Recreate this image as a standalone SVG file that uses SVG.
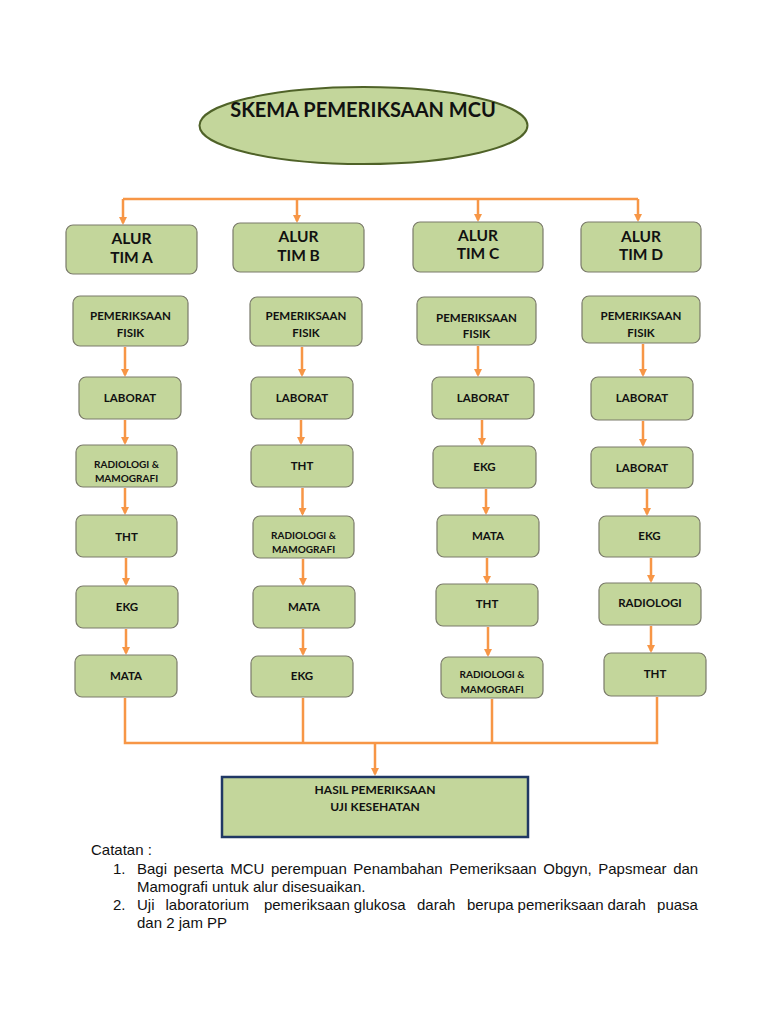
<svg xmlns="http://www.w3.org/2000/svg" width="768" height="1024" viewBox="0 0 768 1024">
<style>
.bx{fill:#C3D69B;stroke:#7a7a6a;stroke-width:1.2}
.t{font-family:Lato,"Open Sans","DejaVu Sans",sans-serif;font-weight:bold;fill:#111;text-anchor:middle}
.tt{font-size:20px}
.tm{font-size:15.5px}
.ts{font-size:11.5px}
.tr{font-size:10px}
.th{font-size:12px}
.c{fill:none;stroke:#F79646;stroke-width:2.5}
.n{font-family:"Liberation Sans",Arial,sans-serif;font-size:15px;fill:#111}
</style>
<defs>
<marker id="ah" viewBox="0 0 8 8" refX="6" refY="4" markerWidth="8" markerHeight="8" markerUnits="userSpaceOnUse" orient="auto">
<path d="M0,0 L8,4 L0,8 z" fill="#F79646"/>
</marker>
</defs>
<rect width="768" height="1024" fill="#fff"/>

<g id="title">
<ellipse cx="363.5" cy="125.5" rx="164" ry="38.5" fill="#C3D69B" stroke="#4F6228" stroke-width="2"/>
<text class="t tt" x="363" y="117">SKEMA PEMERIKSAAN MCU</text>
</g>

<g id="connectors">
<path class="c" d="M123,199 H638"/>
<path class="c" marker-end="url(#ah)" d="M123,199 V223"/>
<path class="c" marker-end="url(#ah)" d="M297,199 V221"/>
<path class="c" marker-end="url(#ah)" d="M478,199 V220"/>
<path class="c" marker-end="url(#ah)" d="M638,199 V220"/>
<path class="c" marker-end="url(#ah)" d="M125,347 V375"/>
<path class="c" marker-end="url(#ah)" d="M125,420 V443"/>
<path class="c" marker-end="url(#ah)" d="M125,488 V513"/>
<path class="c" marker-end="url(#ah)" d="M126,558 V584"/>
<path class="c" marker-end="url(#ah)" d="M126,629 V653"/>
<path class="c" marker-end="url(#ah)" d="M302,347 V375"/>
<path class="c" marker-end="url(#ah)" d="M301,420 V443"/>
<path class="c" marker-end="url(#ah)" d="M302.5,488 V514"/>
<path class="c" marker-end="url(#ah)" d="M303,559 V584"/>
<path class="c" marker-end="url(#ah)" d="M303,629 V654"/>
<path class="c" marker-end="url(#ah)" d="M478,346 V375"/>
<path class="c" marker-end="url(#ah)" d="M482,420 V444"/>
<path class="c" marker-end="url(#ah)" d="M486,489 V513"/>
<path class="c" marker-end="url(#ah)" d="M487,558 V582"/>
<path class="c" marker-end="url(#ah)" d="M488,627 V655"/>
<path class="c" marker-end="url(#ah)" d="M643,344 V375"/>
<path class="c" marker-end="url(#ah)" d="M643,421 V445"/>
<path class="c" marker-end="url(#ah)" d="M647,489 V514"/>
<path class="c" marker-end="url(#ah)" d="M651,558 V581"/>
<path class="c" marker-end="url(#ah)" d="M651,626 V651"/>
<path class="c" d="M125,698 V743 H657 V697"/>
<path class="c" d="M303,698 V743"/>
<path class="c" d="M492,699 V743"/>
<path class="c" marker-end="url(#ah)" d="M375,743 V774"/>
</g>

<g id="alur-a"><rect class="bx" x="66" y="225" width="131" height="49" rx="7"/><text class="t tm" x="131.5" y="244">ALUR</text><text class="t tm" x="131.5" y="263">TIM A</text></g>
<g id="alur-b"><rect class="bx" x="233" y="223" width="131" height="49" rx="7"/><text class="t tm" x="298.5" y="242">ALUR</text><text class="t tm" x="298.5" y="261">TIM B</text></g>
<g id="alur-c"><rect class="bx" x="413" y="222" width="130" height="50" rx="7"/><text class="t tm" x="478" y="241">ALUR</text><text class="t tm" x="478" y="259">TIM C</text></g>
<g id="alur-d"><rect class="bx" x="581" y="222" width="120" height="50" rx="7"/><text class="t tm" x="641" y="242">ALUR</text><text class="t tm" x="641" y="260">TIM D</text></g>

<g id="a1"><rect class="bx" x="73" y="296" width="115" height="50" rx="7"/><text class="t ts" x="130.5" y="320">PEMERIKSAAN</text><text class="t ts" x="130.5" y="337">FISIK</text></g>
<g id="b1"><rect class="bx" x="250" y="297" width="112" height="49" rx="7"/><text class="t ts" x="306" y="320">PEMERIKSAAN</text><text class="t ts" x="306" y="337">FISIK</text></g>
<g id="c1"><rect class="bx" x="417" y="297" width="119" height="48" rx="7"/><text class="t ts" x="476.5" y="322">PEMERIKSAAN</text><text class="t ts" x="476.5" y="338">FISIK</text></g>
<g id="d1"><rect class="bx" x="582" y="296" width="118" height="47" rx="7"/><text class="t ts" x="641" y="320">PEMERIKSAAN</text><text class="t ts" x="641" y="337">FISIK</text></g>

<g id="a2"><rect class="bx" x="79" y="377" width="102" height="42" rx="7"/><text class="t ts" x="130" y="402">LABORAT</text></g>
<g id="b2"><rect class="bx" x="251" y="377" width="102" height="42" rx="7"/><text class="t ts" x="302" y="402">LABORAT</text></g>
<g id="c2"><rect class="bx" x="432" y="377" width="102" height="42" rx="7"/><text class="t ts" x="483" y="402">LABORAT</text></g>
<g id="d2"><rect class="bx" x="591" y="377" width="102" height="43" rx="7"/><text class="t ts" x="642" y="402">LABORAT</text></g>

<g id="a3"><rect class="bx" x="76" y="445" width="101" height="42" rx="7"/><text class="t tr" x="126.5" y="468">RADIOLOGI &amp;</text><text class="t tr" x="126.5" y="482">MAMOGRAFI</text></g>
<g id="b3"><rect class="bx" x="251" y="445" width="102" height="42" rx="7"/><text class="t ts" x="302" y="470">THT</text></g>
<g id="c3"><rect class="bx" x="433" y="446" width="103" height="42" rx="7"/><text class="t ts" x="484.5" y="471">EKG</text></g>
<g id="d3"><rect class="bx" x="591" y="447" width="102" height="41" rx="7"/><text class="t ts" x="642" y="472">LABORAT</text></g>

<g id="a4"><rect class="bx" x="76" y="515" width="101" height="42" rx="7"/><text class="t ts" x="126.5" y="541">THT</text></g>
<g id="b4"><rect class="bx" x="253" y="516" width="101" height="42" rx="7"/><text class="t tr" x="303.5" y="539">RADIOLOGI &amp;</text><text class="t tr" x="303.5" y="553">MAMOGRAFI</text></g>
<g id="c4"><rect class="bx" x="437" y="515" width="102" height="42" rx="7"/><text class="t ts" x="488" y="540">MATA</text></g>
<g id="d4"><rect class="bx" x="599" y="516" width="101" height="41" rx="7"/><text class="t ts" x="649.5" y="540">EKG</text></g>

<g id="a5"><rect class="bx" x="76" y="586" width="102" height="42" rx="7"/><text class="t ts" x="127" y="611">EKG</text></g>
<g id="b5"><rect class="bx" x="253" y="586" width="102" height="42" rx="7"/><text class="t ts" x="304" y="611">MATA</text></g>
<g id="c5"><rect class="bx" x="436" y="584" width="102" height="42" rx="7"/><text class="t ts" x="487" y="608">THT</text></g>
<g id="d5"><rect class="bx" x="599" y="583" width="102" height="42" rx="7"/><text class="t ts" x="650" y="607">RADIOLOGI</text></g>

<g id="a6"><rect class="bx" x="75" y="655" width="102" height="42" rx="7"/><text class="t ts" x="126" y="680">MATA</text></g>
<g id="b6"><rect class="bx" x="251" y="656" width="102" height="41" rx="7"/><text class="t ts" x="302" y="680">EKG</text></g>
<g id="c6"><rect class="bx" x="441" y="657" width="102" height="41" rx="7"/><text class="t tr" x="492" y="678">RADIOLOGI &amp;</text><text class="t tr" x="492" y="693">MAMOGRAFI</text></g>
<g id="d6"><rect class="bx" x="604" y="653" width="102" height="43" rx="7"/><text class="t ts" x="655" y="678">THT</text></g>

<g id="hasil">
<rect x="222" y="777" width="306" height="60" fill="#C3D69B" stroke="#203864" stroke-width="2.5"/>
<text class="t th" x="375" y="794">HASIL PEMERIKSAAN</text>
<text class="t th" x="375" y="811">UJI KESEHATAN</text>
</g>

<g id="catatan">
<text class="n" x="91" y="855">Catatan :</text>
<text class="n" x="113" y="874">1.</text>
<text class="n" x="137" y="874" word-spacing="2.4">Bagi peserta MCU perempuan Penambahan Pemeriksaan Obgyn, Papsmear dan</text>
<text class="n" x="137" y="892">Mamografi untuk alur disesuaikan.</text>
<text class="n" x="113" y="910">2.</text>
<text class="n" y="910"><tspan x="137">Uji</tspan><tspan x="165.5">laboratorium</tspan><tspan x="263.9">pemeriksaan</tspan><tspan x="353.8">glukosa</tspan><tspan x="417">darah</tspan><tspan x="466.9">berupa</tspan><tspan x="517.6">pemeriksaan</tspan><tspan x="607.5">darah</tspan><tspan x="657.1">puasa</tspan></text>
<text class="n" x="137" y="928">dan 2 jam PP</text>
</g>
</svg>
